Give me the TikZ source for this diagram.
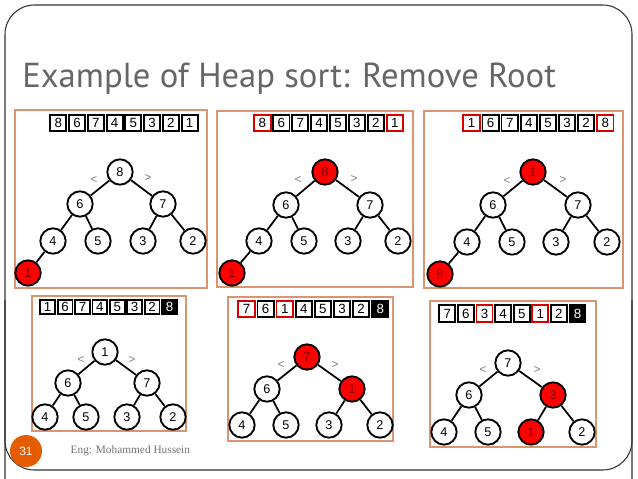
\documentclass[tikz,border=0pt]{standalone}
\usepackage{fontspec}
\setmainfont{Liberation Serif}
\setsansfont{Liberation Sans}
\newfontfamily\titlefont{PT Sans}
\begin{document}
\begin{tikzpicture}[x=0.75pt,y=-0.75pt,
  hn/.style={circle,draw=black,line width=1.4pt,fill=white,minimum size=19pt,inner sep=0pt,font=\sffamily\fontsize{9.5}{9.5}\selectfont},
  rn/.style={hn,fill=red,text=red!50!black},
  edge/.style={line width=1.3pt},
  cmp/.style={text=gray,font=\sffamily\fontsize{9}{9}\selectfont},
  panel/.style={draw=brown!80!red!70,line width=0.8pt},
  cw/.style={draw=black,line width=1.4pt,fill=white,font=\sffamily\fontsize{10}{10}\selectfont},
  cr/.style={cw,draw=red!85!black},
  cb/.style={cw,fill=black,text=white}]
\useasboundingbox (0,0) rectangle (638,478);
\draw[line width=0.8pt,rounded corners=22pt,color=black!80] (5,480) -- (5,5) -- (632,5) -- (632,480);
\draw[line width=0.8pt,rounded corners=22pt,color=black!80] (5,300) -- (5,470) -- (632,470) -- (632,300);
\node[anchor=base west,inner sep=0pt,text=black!60,font=\titlefont\fontsize{26}{26}\selectfont] (title) at (22,87) {Example of Heap sort: Remove Root};
\node[circle,fill=orange!80!red!90!black,minimum size=24pt,inner sep=0pt,text=white,font=\sffamily\fontsize{9}{9}\selectfont] (pg) at (26,451) {31};
\node[anchor=west,text=black!55,font=\rmfamily\fontsize{8.5}{9}\selectfont] (auth) at (66,451) {Eng: Mohammed Hussein};
\newcommand\heaparr[6]{%
  \foreach \v/\s [count=\i from 0] in {#6} {
    \node[\s,minimum width=#4*0.75pt-2pt,minimum height=#5*0.75pt-1.5pt,inner sep=0pt] (#1c\i) at (#2+#4*\i+#4/2,#3+#5/2) {\v};
  }}
% panel 1
\draw[panel] (15,110) rectangle (207,288);
\heaparr{a}{49}{114}{18.75}{18}{8/cw,6/cw,7/cw,4/cw,5/cw,3/cw,2/cw,1/cw}
\node[hn] (a8) at (120,172) {8};
\node[hn] (a6) at (80,204) {6};
\node[hn] (a7) at (163,204) {7};
\node[hn] (a4) at (53,241) {4};
\node[hn] (a5) at (98,241) {5};
\node[hn] (a3) at (143,241) {3};
\node[hn] (a2) at (193,241) {2};
\node[rn] (a1) at (28,273) {1};
\node[cmp] (al) at (94,180) {<};
\node[cmp] (ag) at (148,178) {>};
\draw[edge] (a8)--(a6) (a8)--(a7) (a6)--(a4) (a6)--(a5) (a7)--(a3) (a7)--(a2) (a4)--(a1);
% panel 2
\draw[panel] (217,111) rectangle (413,287);
\heaparr{b}{253}{114}{18.9}{18}{8/cr,6/cw,7/cw,4/cw,5/cw,3/cw,2/cw,1/cr}
\node[rn] (b8) at (325,172) {8};
\node[hn] (b6) at (286,205) {6};
\node[hn] (b7) at (370,205) {7};
\node[hn] (b4) at (259,241) {4};
\node[hn] (b5) at (304,241) {5};
\node[hn] (b3) at (348,241) {3};
\node[hn] (b2) at (398,241) {2};
\node[rn] (b1) at (232,273) {1};
\node[cmp] (bl) at (298,180) {<};
\node[cmp] (bg) at (354,179) {>};
\draw[edge] (b8)--(b6) (b8)--(b7) (b6)--(b4) (b6)--(b5) (b7)--(b3) (b7)--(b2) (b4)--(b1);
% panel 3
\draw[panel] (424,111) rectangle (623,288);
\heaparr{c}{462}{114}{19.1}{18}{1/cr,6/cw,7/cw,4/cw,5/cw,3/cw,2/cw,8/cr}
\node[rn] (c1) at (533,172) {1};
\node[hn] (c6) at (493,205) {6};
\node[hn] (c7) at (578,205) {7};
\node[hn] (c4) at (467,242) {4};
\node[hn] (c5) at (512,242) {5};
\node[hn] (c3) at (556,242) {3};
\node[hn] (c2) at (607,242) {2};
\node[rn] (c8) at (440,274) {8};
\node[cmp] (cl) at (507,181) {<};
\node[cmp] (cg) at (563,180) {>};
\draw[edge] (c1)--(c6) (c1)--(c7) (c6)--(c4) (c6)--(c5) (c7)--(c3) (c7)--(c2) (c4)--(c8);
% panel 4
\draw[panel] (32,296) rectangle (186,431);
\heaparr{d}{39}{299}{17.4}{16}{1/cw,6/cw,7/cw,4/cw,5/cw,3/cw,2/cw,8/cb}
\node[hn] (d1) at (105,352) {1};
\node[hn] (d6) at (68,383) {6};
\node[hn] (d7) at (147,383) {7};
\node[hn] (d4) at (45,417) {4};
\node[hn] (d5) at (86,417) {5};
\node[hn] (d3) at (127,417) {3};
\node[hn] (d2) at (173,417) {2};
\node[cmp] (dl) at (81,360) {<};
\node[cmp] (dg) at (132,360) {>};
\draw[edge] (d1)--(d6) (d1)--(d7) (d6)--(d4) (d6)--(d5) (d7)--(d3) (d7)--(d2);
% panel 5
\draw[panel] (228,297) rectangle (393,441);
\heaparr{e}{237}{300}{19.1}{18}{7/cr,6/cw,1/cr,4/cw,5/cw,3/cw,2/cw,8/cb}
\node[rn] (e7) at (307,357) {7};
\node[hn] (e6) at (267,389) {6};
\node[rn] (e1) at (352,389) {1};
\node[hn] (e4) at (242,425) {4};
\node[hn] (e5) at (286,425) {5};
\node[hn] (e3) at (329,425) {3};
\node[hn] (e2) at (380,425) {2};
\node[cmp] (el) at (281,365) {<};
\node[cmp] (eg) at (335,365) {>};
\draw[edge] (e7)--(e6) (e7)--(e1) (e6)--(e4) (e6)--(e5) (e1)--(e3) (e1)--(e2);
% panel 6
\draw[panel] (430,301) rectangle (596,447);
\heaparr{f}{438}{304}{18.6}{19}{7/cw,6/cw,3/cr,4/cw,5/cw,1/cr,2/cw,8/cb}
\node[hn] (f7) at (508,363) {7};
\node[hn] (f6) at (469,395) {6};
\node[rn] (f3) at (553,395) {3};
\node[hn] (f4) at (444,432) {4};
\node[hn] (f5) at (488,432) {5};
\node[rn] (f1) at (531,432) {1};
\node[hn] (f2) at (582,432) {2};
\node[cmp] (fl) at (483,370) {<};
\node[cmp] (fg) at (537,370) {>};
\draw[edge] (f7)--(f6) (f7)--(f3) (f6)--(f4) (f6)--(f5) (f3)--(f1) (f3)--(f2);
\end{tikzpicture}
\end{document}
